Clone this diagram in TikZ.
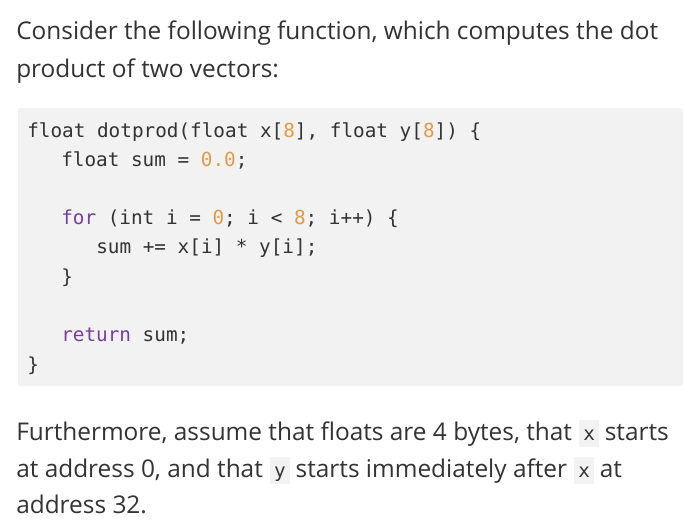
\documentclass[tikz,border=0pt]{standalone}
\usepackage{fontspec}
\setmainfont{Open Sans}
\setmonofont{DejaVu Sans Mono}
\definecolor{txt}{HTML}{333333}
\definecolor{kw}{HTML}{7A3E9D}
\definecolor{num}{HTML}{E39B48}
\definecolor{bg}{HTML}{F2F2F2}
\newcommand{\kwd}[1]{\textcolor{kw}{#1}}
\newcommand{\nm}[1]{\textcolor{num}{#1}}
\begin{document}
\begin{tikzpicture}[x=0.75pt,y=-0.75pt,
  prose/.style={anchor=base west,inner sep=0pt,text=txt,font=\fontsize{18.3}{22}\selectfont},
  code/.style={anchor=base west,inner sep=0pt,text=txt,font=\ttfamily\fontsize{14.5}{17}\selectfont},
  ic/.style={anchor=base west,inner xsep=3pt,inner ysep=0pt,text depth=5pt,text height=15pt,fill=bg,text=txt,font=\ttfamily\fontsize{14.5}{17}\selectfont}]
\useasboundingbox (0,0) rectangle (700,532);
\fill[white] (0,0) rectangle (700,532);
\node[prose] (p1) at (16,39) {Consider the following function, which computes the dot};
\node[prose] (p2) at (16,77) {product of two vectors:};
\fill[bg,rounded corners=2pt] (18,108) rectangle (683,386);
\node[code] (c1) at (27,137) {float dotprod(float x[\nm{8}], float y[\nm{8}]) \{};
\node[code] (c2) at (61,166) {float sum = \nm{0.0};};
\node[code] (c3) at (61,224) {\kwd{for} (int i = \nm{0}; i < \nm{8}; i++) \{};
\node[code] (c4) at (96,253) {sum += x[i] * y[i];};
\node[code] (c5) at (61,283) {\}};
\node[code] (c6) at (61,341) {\kwd{return} sum;};
\node[code] (c7) at (27,371) {\}};
\node[prose] (q1) at (16,440) {Furthermore, assume that floats are 4 bytes, that};
\node[ic] (x1) at ([xshift=5pt]q1.base east) {x};
\node[prose] (q1b) at ([xshift=4pt]x1.base east) {starts};
\node[prose] (q2) at (16,477) {at address 0, and that};
\node[ic] (y1) at ([xshift=5pt]q2.base east) {y};
\node[prose] (q2b) at ([xshift=4pt]y1.base east) {starts immediately after};
\node[ic] (x2) at ([xshift=5pt]q2b.base east) {x};
\node[prose] (q2c) at ([xshift=4pt]x2.base east) {at};
\node[prose] (q3) at (16,513) {address 32.};
\end{tikzpicture}
\end{document}
